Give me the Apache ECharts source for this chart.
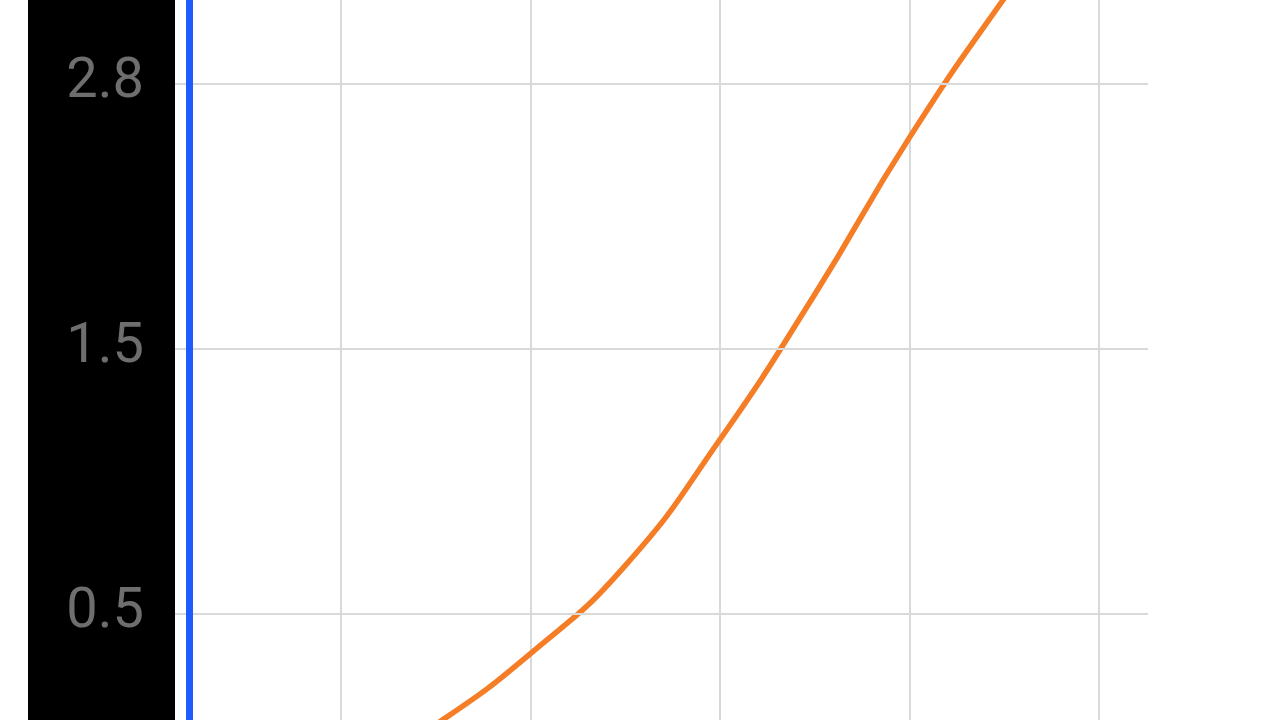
<!DOCTYPE html>
<html>
<head>
<meta charset="utf-8">
<script src="https://cdn.jsdelivr.net/npm/echarts@6/dist/echarts.min.js"></script>
<style>
html,body{margin:0;padding:0;background:#fff;}
#chart{width:1280px;height:720px;}
</style>
</head>
<body>
<div id="chart"></div>
<script>
// y tick labels, indexed by axis position
var yTickLabels = ['', '0.5', '1.5', '2.8', ''];
// curve x positions and y positions (in axis units)
var curveX = [1.0, 1.5, 2.0, 2.5, 3.0, 3.5, 4.0, 4.5, 5.0];
var curveY = [0.36, 0.580, 0.848, 1.180, 1.656, 2.203, 2.795, 3.320, 3.801];
// vertical marker position
var markerX = [0.2];

var chart = echarts.init(document.getElementById('chart'));
var data = curveX.map(function (x, i) { return [x, curveY[i]]; });

chart.setOption({
  animation: false,
  backgroundColor: '#ffffff',
  grid: { left: 175, right: 132, top: 0, bottom: 0 },
  graphic: [{
    type: 'rect',
    z: 1,
    shape: { x: 28, y: 0, width: 147, height: 720 },
    style: { fill: '#000000' },
    silent: true
  }],
  xAxis: {
    type: 'value',
    min: 0.124,
    max: 5.259,
    axisLine: { show: false },
    axisTick: { show: false },
    axisLabel: { show: false },
    splitLine: { show: true, showMinLine: false, showMaxLine: false, lineStyle: { color: '#d9d9d9', width: 2 } }
  },
  yAxis: {
    type: 'value',
    min: 0.5974,
    max: 3.3143,
    splitNumber: 3,
    z: 5,
    axisLine: { show: false },
    axisTick: { show: false },
    axisLabel: {
      show: true,
      margin: 31,
      color: '#6e6e6e',
      fontFamily: 'Roboto',
      fontSize: 56,
      showMinLabel: false,
      showMaxLabel: false,
      formatter: function (v) {
        var r = Math.round(v);
        return Math.abs(v - r) < 1e-6 ? (yTickLabels[r] || '') : '';
      }
    },
    splitLine: { show: true, showMinLine: false, showMaxLine: false, lineStyle: { color: '#d9d9d9', width: 2 } }
  },
  series: [{
    type: 'line',
    data: data,
    smooth: 0.5,
    showSymbol: false,
    clip: true,
    lineStyle: { color: '#f47d26', width: 5.5 },
    markLine: {
      silent: true,
      symbol: ['none', 'none'],
      label: { show: false },
      lineStyle: { color: '#1f5cff', width: 7, type: 'solid' },
      data: markerX.map(function (x) { return { xAxis: x }; })
    }
  }]
});
</script>
</body>
</html>
